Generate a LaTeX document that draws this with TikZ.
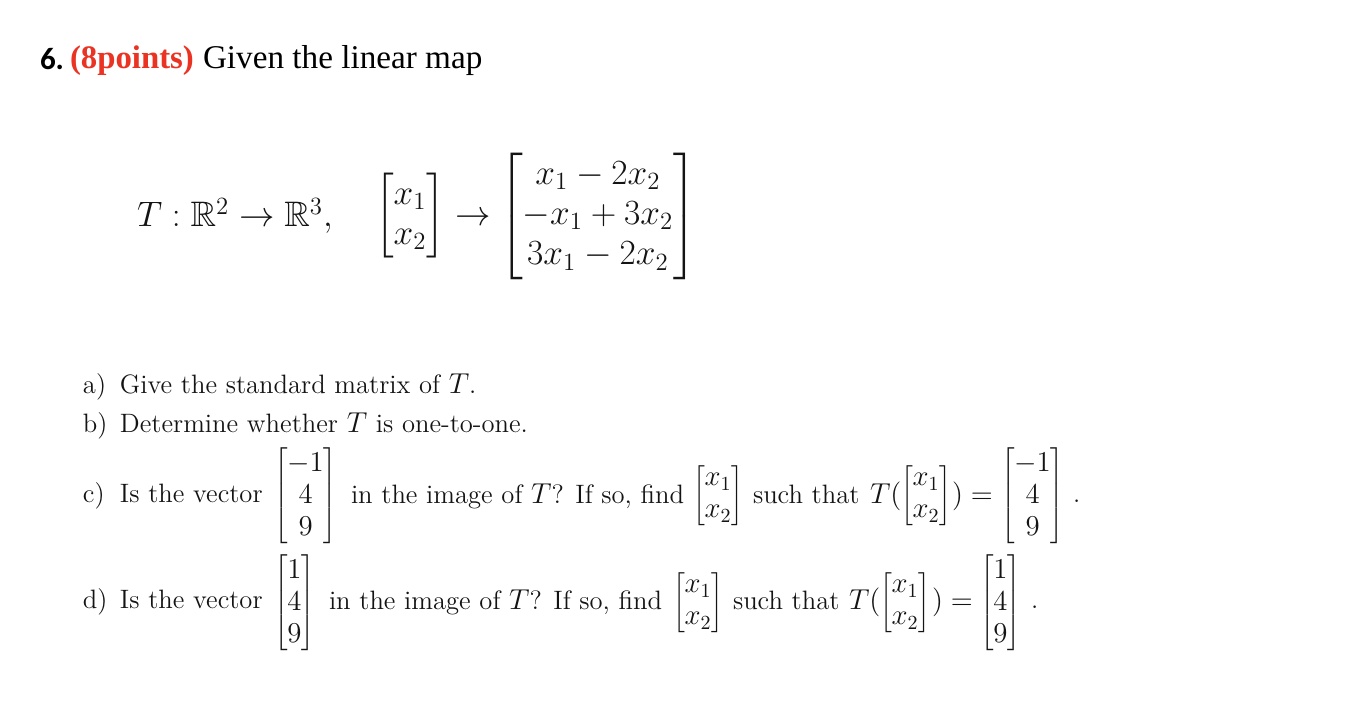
\RequirePackage{fix-cm}
\documentclass[tikz,border=0pt]{standalone}
\usepackage{amsmath,amssymb}
\usepackage{fontspec}
\newfontfamily\headserif{Liberation Serif}
\newfontfamily\headsans{Carlito}
\definecolor{headred}{RGB}{234,51,35}
\DeclareFontShape{OMX}{cmex}{m}{n}{<-14.5> fixed*[10] cmex10 <14.5-> cmex10}{}
\DeclareMathSizes{13.3}{14.4}{10}{7}
\DeclareMathSizes{18}{17.7}{12.4}{9}
\newcommand{\bm}[1]{\begin{bmatrix}#1\end{bmatrix}}
\newcommand{\xvec}{\bm{x_1\\x_2}}
\newcommand{\dn}[1]{\raisebox{-0.6pt}{$#1$}}
\newcommand{\lab}[1]{\makebox[18.5pt][l]{#1}}
\tikzset{
  txt/.style={anchor=west,inner sep=0pt,outer sep=0pt,font=\fontsize{13.3}{16}\selectfont,text=black!92},
  big/.style={anchor=west,inner sep=0pt,outer sep=0pt,font=\fontsize{18}{20}\selectfont,text=black!92},
  head/.style={anchor=west,inner sep=0pt,outer sep=0pt,font=\headserif\fontsize{16.6}{20}\selectfont,text=black}
}
\begin{document}
\begin{tikzpicture}[x=0.5pt,y=-0.5pt]
\useasboundingbox[fill=white] (0,0) rectangle (1350,724);
\node[head,font=\headsans\bfseries\fontsize{15.5}{20}\selectfont] (n) at (40,59.5) {6.};
\node[head,font=\headserif\bfseries\fontsize{16.4}{20}\selectfont,text=headred] (p) at (70,61) {(8points)};
\node[head] (g) at (203,61) {Given the linear map};
\node[big] (map) at (137,216) {$T:\mathbb{R}^2\to\mathbb{R}^3,$};
\node[big] (mv) at (375,216) {$\xvec$};
\node[big] (ar) at (455,219.5) {$\to$};
\node[big,font=\fontsize{18}{20.2}\selectfont] (mr) at (499,216.5) {$\bm{x_1-2x_2\\-x_1+3x_2\\3x_1-2x_2}$};
\node[txt] (a) at (83,387) {\lab{a)}Give the standard matrix of $T$.};
\node[txt] (b) at (83,426) {\lab{b)}Determine whether $T$ is one-to-one.};
\node[txt] (c1) at (83,496) {\lab{c)}Is the vector};
\node[txt] (c2) at (274,495.5) {$\bm{\dn{-1}\\\dn{4}\\\dn{9}}$};
\node[txt] (c3) at (351,496) {in the image of $T$? If so, find};
\node[txt] (c4) at (693,495.5) {$\xvec$};
\node[txt] (c5) at (753,494.5) {such that};
\node[txt] (cT) at (870,496) {$T($};
\node[txt] (c6) at (901,495.5) {$\xvec$};
\node[txt] (c7) at (952,496) {$)=$};
\node[txt] (c8) at (1001,495.5) {$\bm{\dn{-1}\\\dn{4}\\\dn{9}}$};
\node[txt] (c9) at (1073,501) {.};
\node[txt] (d1) at (83,602) {\lab{d)}Is the vector};
\node[txt] (d2) at (274,602.5) {$\bm{\dn{1}\\\dn{4}\\\dn{9}}$};
\node[txt] (d3) at (329,602) {in the image of $T$? If so, find};
\node[txt] (d4) at (673,602.5) {$\xvec$};
\node[txt] (d5) at (733,600.5) {such that};
\node[txt] (dT) at (849,602) {$T($};
\node[txt] (d6) at (880,602.5) {$\xvec$};
\node[txt] (d7) at (932,602) {$)=$};
\node[txt] (d8) at (980,602.5) {$\bm{\dn{1}\\\dn{4}\\\dn{9}}$};
\node[txt] (d9) at (1031,607) {.};
\end{tikzpicture}
\end{document}
